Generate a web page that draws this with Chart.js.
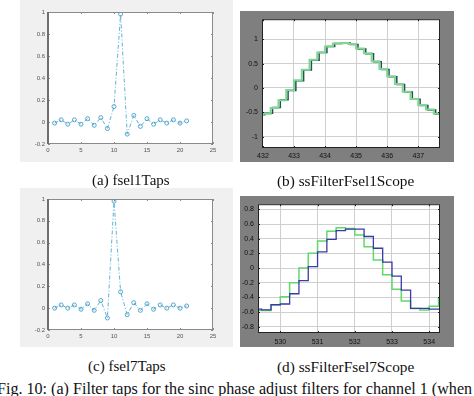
<!DOCTYPE html>
<html>
<head>
<meta charset="utf-8">
<script src="https://cdn.jsdelivr.net/npm/chart.js@4.4.0/dist/chart.umd.min.js"></script>
<style>
  body { margin: 0; width: 474px; height: 396px; overflow: hidden; position: relative; background: #fff; }
  canvas { position: absolute; }
  .cap { position: absolute; font-family: "Liberation Serif", "DejaVu Serif", serif; font-size: 15px; line-height: 15px; color: #111; white-space: nowrap; }
</style>
</head>
<body>
<canvas id="chart-a" width="213" height="162" style="left:20px;top:0px"></canvas>
<canvas id="chart-b" width="214" height="151" style="left:240px;top:11px"></canvas>
<canvas id="chart-c" width="213" height="159" style="left:20px;top:188px"></canvas>
<canvas id="chart-d" width="214" height="151" style="left:240px;top:196px"></canvas>

<div class="cap" style="left:92px;top:173px">(a) fsel1Taps</div>
<div class="cap" style="left:277px;top:173px;font-size:15.3px">(b) ssFilterFsel1Scope</div>
<div class="cap" style="left:88px;top:359px">(c) fsel7Taps</div>
<div class="cap" style="left:277px;top:359px;font-size:15.3px">(d) ssFilterFsel7Scope</div>
<div class="cap" style="left:-3px;top:381px;font-size:16.1px;line-height:16px">Fig. 10: (a) Filter taps for the sinc phase adjust filters for channel 1 (when</div>

<script>
// tap plots (a) and (c)
const tapIndex = [1, 2, 3, 4, 5, 6, 7, 8, 9, 10, 11, 12, 13, 14, 15, 16, 17, 18, 19, 20, 21];
const fsel1Taps = [-0.01, 0.02, -0.02, 0.02, -0.02, 0.03, -0.03, 0.04, -0.06, 0.14, 0.98, -0.11, 0.06, -0.04, 0.03, -0.02, 0.02, -0.01, 0.02, -0.01, 0.01];
const fsel7Taps = [0.0, 0.03, 0.0, 0.03, -0.01, 0.04, -0.02, 0.07, -0.09, 0.98, 0.15, -0.06, 0.05, -0.02, 0.04, -0.01, 0.03, 0.0, 0.03, 0.0, 0.02];
const tapXTicks = [0, 5, 10, 15, 20, 25];
const tapYTicks = [-0.2, 0, 0.2, 0.4, 0.6, 0.8, 1];

// scope (b)
const scopeBTime = [431.75, 432, 432.25, 432.5, 432.75, 433, 433.25, 433.5, 433.75, 434, 434.25, 434.5, 434.75, 435, 435.25, 435.5, 435.75, 436, 436.25, 436.5, 436.75, 437, 437.25, 437.5, 437.75];
const scopeBDarkTime = [431.81, 432.06, 432.31, 432.56, 432.81, 433.06, 433.31, 433.56, 433.81, 434.06, 434.31, 434.56, 434.81, 435.06, 435.31, 435.56, 435.81, 436.06, 436.31, 436.56, 436.81, 437.06, 437.31, 437.56, 437.81];
const scopeBGreen = [-0.55, -0.53, -0.41, -0.25, -0.04, 0.16, 0.375, 0.58, 0.73, 0.85, 0.91, 0.92, 0.90, 0.81, 0.71, 0.55, 0.39, 0.24, 0.08, -0.075, -0.225, -0.35, -0.44, -0.53, -0.57];
const scopeBDark = [-0.55, -0.52, -0.40, -0.24, -0.05, 0.15, 0.37, 0.57, 0.73, 0.85, 0.91, 0.92, 0.89, 0.80, 0.70, 0.54, 0.38, 0.23, 0.07, -0.08, -0.23, -0.36, -0.45, -0.54, -0.57];
const scopeBXTicks = [432, 433, 434, 435, 436, 437];
const scopeBYTicks = [-1, -0.5, 0, 0.5, 1];

// scope (d)
const scopeDTime = [529.25, 529.5, 529.75, 530, 530.25, 530.5, 530.75, 531, 531.25, 531.5, 531.75, 532, 532.25, 532.5, 532.75, 533, 533.25, 533.5, 533.75, 534, 534.25, 534.5];
const scopeDGreen = [-0.58, -0.58, -0.50, -0.39, -0.20, 0.00, 0.20, 0.37, 0.50, 0.55, 0.54, 0.45, 0.29, 0.11, -0.09, -0.29, -0.45, -0.55, -0.57, -0.52, -0.42, -0.40];
const scopeDBlue = [-0.56, -0.57, -0.50, -0.49, -0.35, -0.17, 0.02, 0.22, 0.39, 0.51, 0.53, 0.53, 0.43, 0.27, 0.08, -0.11, -0.30, -0.55, -0.55, -0.56, -0.56, -0.56];
const scopeDXTicks = [530, 531, 532, 533, 534];
const scopeDYTicks = [-0.8, -0.6, -0.4, -0.2, 0, 0.2, 0.4, 0.6, 0.8];

const toPoints = (xs, ys) => xs.map((x, i) => ({ x: x, y: ys[i] }));

// paints the figure background, white axes box and inward ticks like matlab
const frame = {
  id: 'frame',
  beforeDraw(chart, args, o) {
    const { ctx, chartArea: a, width, height } = chart;
    ctx.save();
    ctx.fillStyle = o.bg;
    ctx.fillRect(0, 0, width, height);
    ctx.fillStyle = '#fff';
    ctx.fillRect(a.left, a.top, a.right - a.left, a.bottom - a.top);
    ctx.restore();
  },
  afterDraw(chart, args, o) {
    const { ctx, chartArea: a, scales } = chart;
    ctx.save();
    ctx.strokeStyle = o.tickColor;
    ctx.lineWidth = 1;
    ctx.beginPath();
    scales.x.ticks.forEach(t => {
      const px = Math.round(scales.x.getPixelForValue(t.value)) + 0.5;
      ctx.moveTo(px, a.bottom); ctx.lineTo(px, a.bottom - o.tick);
      ctx.moveTo(px, a.top); ctx.lineTo(px, a.top + o.tick);
    });
    scales.y.ticks.forEach(t => {
      const py = Math.round(scales.y.getPixelForValue(t.value)) + 0.5;
      ctx.moveTo(a.left, py); ctx.lineTo(a.left + o.tick, py);
      ctx.moveTo(a.right, py); ctx.lineTo(a.right - o.tick, py);
    });
    ctx.stroke();
    ctx.strokeStyle = o.box;
    ctx.strokeRect(a.left + 0.5, a.top + 0.5, a.right - a.left - 1, a.bottom - a.top - 1);
    if (o.leftAxis) {
      ctx.strokeStyle = o.leftAxis;
      ctx.lineWidth = 2;
      ctx.beginPath();
      ctx.moveTo(a.left, a.top); ctx.lineTo(a.left, a.bottom);
      ctx.stroke();
    }
    ctx.restore();
  }
};

function makeChart(id, s) {
  return new Chart(document.getElementById(id), {
    type: 'line',
    data: { datasets: s.datasets },
    plugins: [frame],
    options: {
      responsive: false,
      animation: false,
      events: [],
      layout: { autoPadding: false, padding: { left: 0, top: s.top, right: s.right, bottom: 0 } },
      plugins: {
        legend: { display: false },
        tooltip: { enabled: false },
        frame: { bg: s.bg, box: s.box, tickColor: s.box, tick: 2, leftAxis: s.leftAxis }
      },
      scales: {
        x: {
          type: 'linear', min: s.xMin, max: s.xMax,
          afterBuildTicks: sc => { sc.ticks = s.xTicks.map(v => ({ value: v })); },
          afterFit: sc => { sc.height = s.xH; },
          grid: { display: s.grid, color: '#cfcfcf', drawTicks: false },
          border: { display: false },
          ticks: { padding: s.xPad, maxRotation: 0, autoSkip: false, color: s.label, font: { family: 'Liberation Sans, Arial, sans-serif', size: s.font }, callback: v => String(v) }
        },
        y: {
          type: 'linear', min: s.yMin, max: s.yMax,
          afterBuildTicks: sc => { sc.ticks = s.yTicks.map(v => ({ value: v })); },
          afterFit: sc => { sc.width = s.yW; },
          grid: { display: s.grid, color: '#cfcfcf', drawTicks: false },
          border: { display: false },
          ticks: { padding: s.yPad, autoSkip: false, color: s.label, font: { family: 'Liberation Sans, Arial, sans-serif', size: s.font }, callback: v => String(v) }
        }
      }
    }
  });
}

const tapSet = (ys) => ({
  data: toPoints(tapIndex, ys),
  borderColor: '#62b3d8',
  borderWidth: 1,
  borderDash: [4, 2, 1, 2],
  pointStyle: 'circle',
  pointRadius: 2,
  pointBorderWidth: 1,
  pointBorderColor: '#55a6cf',
  pointBackgroundColor: 'rgba(255,255,255,0)',
  tension: 0
});

const tapBase = {
  xMin: 0, xMax: 25, yMin: -0.2, yMax: 1,
  xTicks: tapXTicks, yTicks: tapYTicks,
  right: 20, yW: 28, bg: '#f0f0f0', box: '#8a8a8a', leftAxis: '#6e6e6e',
  grid: false, label: '#555', font: 6, xPad: 3, yPad: 3
};

makeChart('chart-a', Object.assign({}, tapBase, { datasets: [tapSet(fsel1Taps)], top: 12, xH: 18 }));
makeChart('chart-c', Object.assign({}, tapBase, { datasets: [tapSet(fsel7Taps)], top: 11, xH: 17 }));

const stepSet = (xs, ys, color, width) => ({
  data: toPoints(xs, ys),
  borderColor: color,
  borderWidth: width,
  stepped: true,
  pointRadius: 0
});

makeChart('chart-b', {
  datasets: [
    stepSet(scopeBTime, scopeBGreen, '#7fd68c', 2),
    stepSet(scopeBDarkTime, scopeBDark, '#24505e', 1.5)
  ],
  xMin: 431.97, xMax: 437.7, yMin: -1.23, yMax: 1.41,
  xTicks: scopeBXTicks, yTicks: scopeBYTicks,
  top: 8, right: 14, yW: 22, xH: 14, bg: '#7f7f7f', box: '#222', leftAxis: null,
  grid: true, label: '#111', font: 7, xPad: 4, yPad: 4
});

makeChart('chart-d', {
  datasets: [
    stepSet(scopeDTime, scopeDBlue, '#3a3aa8', 1.3),
    stepSet(scopeDTime, scopeDGreen, '#62d86a', 1.5)
  ],
  xMin: 529.4, xMax: 534.29, yMin: -0.885, yMax: 0.87,
  xTicks: scopeDXTicks, yTicks: scopeDYTicks,
  top: 8, right: 14, yW: 18, xH: 14, bg: '#7f7f7f', box: '#222', leftAxis: null,
  grid: true, label: '#111', font: 7, xPad: 5, yPad: 4
});
</script>
</body>
</html>
